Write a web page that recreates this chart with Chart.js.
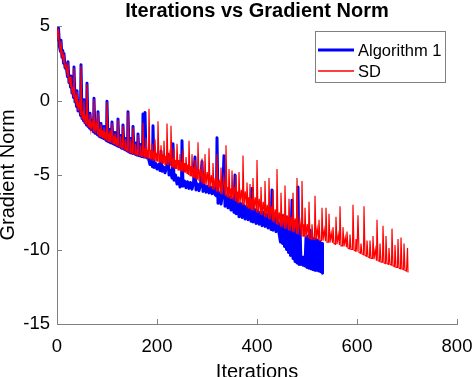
<!DOCTYPE html>
<html>
<head>
<meta charset="utf-8">
<title>Iterations vs Gradient Norm</title>
<script src="https://cdn.jsdelivr.net/npm/chart.js@4/dist/chart.umd.min.js"></script>
<style>
  html, body { margin: 0; padding: 0; background: #fff; }
  canvas { display: block; }
</style>
</head>
<body>
<canvas id="chart" width="474" height="377"></canvas>
<script>
/* ---------- data ---------- */
const chartTitle = 'Iterations vs Gradient Norm';
const xTitle = 'Iterations';
const yTitle = 'Gradient Norm';
const seriesLabels = ['Algorithm 1', 'SD'];
const xTicks = [0, 200, 400, 600, 800];
const yTicks = [-15, -10, -5, 0, 5];

// Algorithm 1 (thick blue)
const algIter = [
  0, 2, 3, 5, 7, 8, 10, 11.5, 13, 14,
  16, 18, 21, 22, 24, 25.5, 27, 28, 30, 31.5,
  33, 34, 36, 37.5, 39, 40, 42, 44.5, 47, 48,
  50, 51.5, 53, 54, 56, 57.5, 59, 60, 62, 63.5,
  65, 66, 68, 70.5, 73, 74, 76, 78.5, 81, 82,
  84, 85.5, 87, 88, 90, 91.5, 93, 94, 96, 97.5,
  99, 100, 102, 103.5, 105, 106, 108, 109, 110, 112,
  113.5, 115, 116, 118, 119.5, 121, 122, 124, 126, 127,
  129, 131, 132, 134, 136, 137, 139, 141, 142, 144,
  146, 147, 149, 151, 152, 154, 156, 157, 159, 161,
  162, 164, 166, 167, 169, 171, 172, 174, 175, 176,
  178, 180, 183, 186, 189, 191, 192, 194, 197, 200,
  203, 206, 208, 210, 213, 216, 219, 222, 224, 227,
  230, 232, 234, 237, 240, 243, 246, 249, 250, 252,
  255, 258, 261, 264, 267, 270, 273, 276, 278, 281,
  284, 287, 290, 292, 295, 298, 301, 304, 307, 310,
  313, 316, 319, 320, 322, 325, 328, 331, 334, 336,
  339, 342, 345, 348, 351, 354, 356, 358, 361, 364,
  367, 370, 373, 376, 379, 382, 385, 388, 390, 392,
  395, 398, 401, 404, 407, 410, 413, 416, 419, 422,
  425, 428, 430, 432, 435, 438, 441, 444, 447, 449,
  451, 453, 455, 457, 459, 461, 463, 465, 467, 469,
  470, 472, 474, 476, 478, 480, 482, 484, 486, 488,
  490, 492, 494, 496, 498, 500, 502, 504, 506, 508,
  510, 512, 514, 516, 518, 520, 522, 524, 526, 528,
  530, 531
];
const algNorm = [
  4.9, 4.1, 4.85, 3.6, 3.3, 4.05, 2.9, 3.35, 2.5, 3.15,
  2.2, 2.45, 1.6, 2.6, 1.2, 1.65, 0.9, 1.65, 0.5, 0.95,
  0.2, 2.25, -0.1, 0.45, -0.4, 0.65, -0.7, -0.05, -1.0, 2.4,
  -1.2, -0.65, -1.35, 0.05, -1.5, -0.95, -1.65, 1.15, -1.75, -1.25,
  -1.85, -0.85, -1.95, -1.35, -2.1, 0.15, -2.2, -1.45, -2.3, -0.75,
  -2.4, -1.85, -2.45, -1.55, -2.5, -1.95, -2.55, -1.75, -2.6, -2.05,
  -2.7, -0.05, -2.75, -2.15, -2.8, -1.95, -2.85, -2.85, -1.45, -2.9,
  -2.35, -2.95, -2.15, -3.0, -2.45, -3.05, -1.25, -3.1, -3.1, -2.35,
  -3.2, -3.2, -1.65, -3.25, -3.3, -2.55, -3.35, -3.4, -0.75, -3.45,
  -3.5, -2.55, -3.5, -3.55, -1.75, -3.55, -3.6, -2.85, -3.65, -3.65,
  -2.25, -3.7, -3.7, -2.95, -3.75, -3.75, -0.9, -3.8, -3.8, -0.8,
  -3.8, -3.85, -3.9, -4.3, -4.0, -4.45, -1.7, -4.5, -4.2, -4.6,
  -4.3, -4.7, -3.4, -4.75, -4.45, -4.85, -4.5, -3.6, -5.0, -4.7,
  -5.2, -2.9, -5.35, -5.0, -5.6, -5.2, -5.8, -5.7, -2.7, -5.75,
  -5.4, -5.85, -5.45, -5.9, -5.5, -5.95, -5.55, -3.8, -6.0, -5.6,
  -6.05, -5.65, -4.1, -6.1, -5.7, -6.15, -5.75, -6.2, -5.8, -6.25,
  -5.85, -6.3, -6.4, -2.5, -6.9, -6.2, -6.95, -6.3, -3.7, -7.1,
  -6.4, -7.2, -6.5, -7.35, -6.6, -7.5, -5.0, -7.6, -6.8, -7.8,
  -6.9, -7.85, -7.0, -7.95, -7.1, -8.0, -7.1, -8.1, -5.9, -8.15,
  -7.3, -8.25, -7.4, -8.3, -7.5, -8.4, -7.5, -8.45, -7.6, -8.55,
  -7.6, -8.65, -6.0, -8.7, -7.7, -8.8, -7.8, -8.9, -9.5, -7.7,
  -9.6, -7.8, -9.8, -7.8, -10.0, -7.9, -10.2, -7.9, -10.4, -8.0,
  -6.7, -10.6, -8.1, -10.8, -8.2, -10.9, -5.8, -11.0, -8.4, -11.0,
  -10.5, -11.05, -10.5, -11.1, -9.2, -11.2, -9.1, -11.25, -8.7, -11.3,
  -9.2, -11.35, -9.3, -11.4, -9.3, -11.4, -9.4, -11.45, -9.5, -11.5,
  -9.6, -11.6
];

// SD (thin red)
const sdIter = [
  0, 2, 3, 5, 7, 8, 10, 11.5, 13, 14,
  16, 18, 21, 22, 24, 25.5, 27, 28, 30, 31.5,
  33, 34, 36, 37.5, 39, 40, 42, 44.5, 47, 48,
  50, 51.5, 53, 54, 56, 57.5, 59, 60, 62, 63.5,
  65, 66, 68, 70.5, 73, 74, 76, 78.5, 81, 82,
  84, 85.5, 87, 88, 90, 91.5, 93, 94, 96, 97.5,
  99, 100, 102, 103.5, 105, 106, 108, 109, 110, 112,
  113.5, 115, 116, 118, 119.5, 121, 122, 124, 126, 127,
  129, 131, 132, 134, 136, 137, 139, 141, 142, 144,
  146, 147, 149, 151, 152, 154, 156, 157, 159, 161,
  162, 164, 166, 167, 169, 171, 172, 174, 175.5, 177,
  178, 180, 181.5, 183, 184, 186, 187.5, 189, 190, 192,
  193.5, 195, 196, 198, 199.5, 201, 202, 204, 205.5, 207,
  208, 210, 211.5, 213, 214, 216, 217.5, 219, 220, 222,
  224.5, 227, 228, 230, 231.5, 233, 234, 236, 237.5, 239,
  240, 242, 243.5, 245, 246, 248, 249.5, 251, 252, 254,
  255.5, 257, 258, 260, 261.5, 263, 264, 266, 267.5, 269,
  270, 272, 273.5, 275, 276, 278, 279.5, 281, 282, 284,
  286.5, 289, 290, 292, 293.5, 295, 296, 298, 300.5, 303,
  304, 306, 308.5, 311, 312, 314, 316.5, 319, 320, 322,
  324.5, 327, 328, 330, 333.5, 337, 338, 340, 341.5, 343,
  344, 346, 347.5, 349, 350, 352, 354.5, 357, 358, 360,
  361.5, 363, 364, 366, 368.5, 371, 372, 374, 376.5, 379,
  380, 382, 383.5, 385, 386, 388, 389.5, 391, 392, 394,
  396.5, 399, 400, 402, 404.5, 407, 408, 410, 412.5, 415,
  416, 418, 420.5, 423, 424, 426, 428.5, 431, 432, 434,
  436.5, 439, 440, 442, 444.5, 447, 448, 450, 452.5, 455,
  456, 458, 460.5, 463, 464, 466, 468.5, 471, 472, 474,
  476.5, 479, 480, 482, 485.5, 489, 490, 492, 493.5, 495,
  496, 498, 500.5, 503, 504, 506, 509, 510, 512, 515,
  516, 518, 520.5, 523, 524, 526, 529, 530, 532, 534.5,
  537, 538, 540, 543, 544, 546, 548.5, 551, 552, 554,
  557, 558, 560, 562.5, 565, 566, 568, 571, 572, 574,
  576.5, 579, 580, 582, 585, 586, 588, 591, 592, 594,
  597, 598, 600, 601, 602, 604, 607, 608, 610, 613,
  614, 616, 619, 620, 622, 625, 626, 628, 631, 632,
  634, 636.5, 639, 640, 642, 645, 646, 648, 651, 652,
  654, 657, 658, 660, 663, 664, 666, 669, 670, 672,
  675, 676, 678, 681, 682, 684, 687, 688, 690, 693,
  694, 696, 699, 701, 702
];
const sdNorm = [
  4.9, 4.1, 4.8, 3.6, 3.3, 4.0, 2.9, 3.3, 2.5, 3.1,
  2.2, 2.4, 1.6, 2.55, 1.2, 1.6, 0.9, 1.6, 0.5, 0.9,
  0.2, 2.2, -0.1, 0.4, -0.4, 0.6, -0.7, -0.1, -1.0, 2.35,
  -1.2, -0.7, -1.35, 0.0, -1.5, -1.0, -1.65, 1.1, -1.75, -1.3,
  -1.85, -0.9, -1.95, -1.4, -2.1, 0.1, -2.2, -1.5, -2.3, -0.8,
  -2.4, -1.9, -2.45, -1.6, -2.5, -2.0, -2.55, -1.8, -2.6, -2.1,
  -2.7, -0.1, -2.75, -2.2, -2.8, -2.0, -2.85, -2.85, -1.5, -2.9,
  -2.4, -2.95, -2.2, -3.0, -2.5, -3.05, -1.3, -3.1, -3.1, -2.4,
  -3.2, -3.2, -1.7, -3.25, -3.3, -2.6, -3.35, -3.4, -0.8, -3.45,
  -3.5, -2.6, -3.5, -3.55, -1.8, -3.55, -3.6, -2.9, -3.65, -3.65,
  -2.3, -3.7, -3.7, -3.0, -3.75, -3.75, -1.5, -3.8, -3.2, -3.8,
  -2.5, -3.85, -3.3, -3.9, -0.55, -3.9, -3.3, -3.95, -2.9, -4.0,
  -3.4, -4.0, -2.6, -4.05, -3.5, -4.1, -1.4, -4.15, -3.6, -4.15,
  -3.0, -4.2, -3.6, -4.25, -2.7, -4.3, -3.7, -4.3, -1.55, -4.35,
  -3.6, -4.4, -1.7, -4.45, -3.9, -4.5, -3.2, -4.55, -4.0, -4.6,
  -2.9, -4.65, -4.0, -4.7, -3.6, -4.7, -4.1, -4.75, -3.3, -4.8,
  -4.2, -4.85, -3.8, -4.9, -4.3, -5.0, -2.7, -5.05, -4.4, -5.1,
  -3.6, -5.15, -4.5, -5.2, -4.0, -5.25, -4.6, -5.3, -2.8, -5.4,
  -4.6, -5.5, -3.9, -5.55, -4.9, -5.6, -3.6, -5.7, -4.8, -5.8,
  -3.2, -5.85, -5.0, -5.95, -4.2, -6.0, -5.2, -6.1, -3.6, -6.15,
  -5.3, -6.25, -4.5, -6.3, -5.2, -6.4, -3.0, -6.45, -5.8, -6.5,
  -4.6, -6.55, -5.9, -6.6, -4.7, -6.65, -5.8, -6.75, -5.0, -6.8,
  -6.1, -6.9, -4.8, -6.9, -6.0, -7.0, -3.7, -7.05, -6.1, -7.15,
  -5.5, -7.2, -6.5, -7.25, -5.6, -7.3, -6.6, -7.35, -5.2, -7.4,
  -6.5, -7.5, -4.0, -7.55, -6.6, -7.65, -5.8, -7.7, -6.8, -7.8,
  -5.4, -7.85, -7.0, -7.95, -5.2, -8.0, -7.1, -8.1, -6.0, -8.2,
  -7.3, -8.3, -4.6, -8.35, -7.5, -8.45, -6.2, -8.5, -7.6, -8.6,
  -5.7, -8.6, -7.7, -8.7, -6.6, -8.75, -7.8, -8.8, -6.2, -8.85,
  -7.9, -8.95, -5.2, -9.0, -8.0, -9.1, -5.4, -9.1, -8.3, -9.15,
  -7.2, -9.2, -8.3, -9.25, -6.8, -9.25, -9.3, -8.3, -9.3, -9.3,
  -6.4, -9.35, -8.6, -9.35, -8.0, -9.4, -9.4, -7.2, -9.4, -8.7,
  -9.45, -7.2, -9.5, -9.5, -7.6, -9.55, -8.9, -9.55, -8.5, -9.6,
  -9.65, -7.8, -9.65, -9.0, -9.7, -7.1, -9.75, -9.75, -8.5, -9.8,
  -9.2, -9.85, -8.8, -9.9, -9.95, -9.0, -10.0, -10.0, -7.0, -10.05,
  -10.1, -9.3, -10.15, -10.15, -7.7, -10.2, -10.25, -9.6, -10.3, -10.35,
  -7.1, -10.4, -10.45, -9.4, -10.5, -10.55, -9.4, -10.6, -10.6, -9.1,
  -10.65, -10.0, -10.75, -8.0, -10.75, -10.8, -9.6, -10.85, -10.85, -8.4,
  -10.9, -10.95, -9.1, -10.95, -11.0, -9.9, -11.0, -11.05, -8.6, -11.1,
  -11.15, -9.7, -11.2, -11.2, -9.3, -11.25, -11.3, -9.2, -11.3, -11.35,
  -9.6, -11.4, -11.45, -9.9, -11.55
];

(function () {
  'use strict';
  const FONT = '"Liberation Sans", Arial, Helvetica, sans-serif';
  const AXIS = '#808080';
  const BLUE = '#0000ff', RED = '#ff0000';
  const pts = (xs, ys) => xs.map((x, i) => ({ x, y: ys[i] }));

  Chart.defaults.font.family = FONT;
  Chart.defaults.color = '#000';

  /* title centred on the plot, inward tick marks, boxed MATLAB-style legend */
  const decor = {
    id: 'decor',
    afterDraw(chart) {
      const { ctx, chartArea: a, scales: { x, y } } = chart;
      ctx.save();

      ctx.fillStyle = '#000';
      ctx.font = 'bold 20px ' + FONT;
      ctx.textAlign = 'center';
      ctx.textBaseline = 'middle';
      ctx.fillText(chartTitle, (a.left + a.right) / 2, 11.5);

      ctx.strokeStyle = AXIS;
      ctx.lineWidth = 1;
      ctx.beginPath();
      xTicks.forEach(v => {
        const px = Math.round(x.getPixelForValue(v)) + 0.5;
        ctx.moveTo(px, a.bottom); ctx.lineTo(px, a.bottom - 5);
      });
      yTicks.forEach(v => {
        const py = Math.round(y.getPixelForValue(v)) + 0.5;
        ctx.moveTo(a.left, py); ctx.lineTo(a.left + 5, py);
      });
      ctx.stroke();

      // legend box
      const bx = 315.5, by = 31.5, bw = 130, bh = 51;
      ctx.fillStyle = '#fff';
      ctx.fillRect(bx, by, bw, bh);
      ctx.strokeStyle = AXIS;
      ctx.strokeRect(bx, by, bw, bh);
      const rows = [{ y: 50, w: 3, c: BLUE }, { y: 71, w: 1.6, c: RED }];
      ctx.font = '16.5px ' + FONT;
      ctx.textAlign = 'left';
      rows.forEach((r, i) => {
        ctx.strokeStyle = r.c;
        ctx.lineWidth = r.w;
        ctx.beginPath();
        ctx.moveTo(318, r.y);
        ctx.lineTo(354, r.y);
        ctx.stroke();
        ctx.fillStyle = '#000';
        ctx.fillText(seriesLabels[i], 358, r.y + 1);
      });
      ctx.restore();
    }
  };

  new Chart(document.getElementById('chart'), {
    type: 'line',
    data: {
      datasets: [
        { label: seriesLabels[0], data: pts(algIter, algNorm), borderColor: BLUE, borderWidth: 3,
          borderJoinStyle: 'round', pointRadius: 0, tension: 0, order: 1 },
        { label: seriesLabels[1], data: pts(sdIter, sdNorm), borderColor: RED, borderWidth: 1.2,
          pointRadius: 0, tension: 0, order: 0 }
      ]
    },
    options: {
      responsive: false, animation: false, events: [],
      layout: { padding: { left: 0, right: 17, top: 26, bottom: 0 } },
      plugins: {
        legend: { display: false },
        tooltip: { enabled: false },
        title: { display: false }
      },
      scales: {
        x: {
          type: 'linear', min: 0, max: 800,
          afterBuildTicks: s => { s.ticks = xTicks.map(v => ({ value: v })); },
          afterFit: s => { s.height = 53; s.paddingLeft = 0; s.paddingRight = 0; },
          ticks: { color: '#000', font: { size: 18.5 }, padding: 12, maxRotation: 0, callback: v => String(v) },
          grid: { display: false, drawTicks: false },
          border: { display: true, color: AXIS, width: 1 },
          title: { display: true, text: xTitle, color: '#000', font: { size: 20, lineHeight: 0.45 }, padding: 0 }
        },
        y: {
          type: 'linear', min: -15, max: 5,
          afterBuildTicks: s => { s.ticks = yTicks.map(v => ({ value: v })); },
          afterFit: s => { s.width = 57; },
          ticks: { color: '#000', font: { size: 18.5 }, padding: 7, callback: v => String(v) },
          grid: { display: false, drawTicks: false },
          border: { display: true, color: AXIS, width: 1 },
          title: { display: true, text: yTitle, color: '#000', font: { size: 20, lineHeight: 0.85 }, padding: 0 }
        }
      }
    },
    plugins: [decor]
  });
})();
</script>
</body>
</html>
